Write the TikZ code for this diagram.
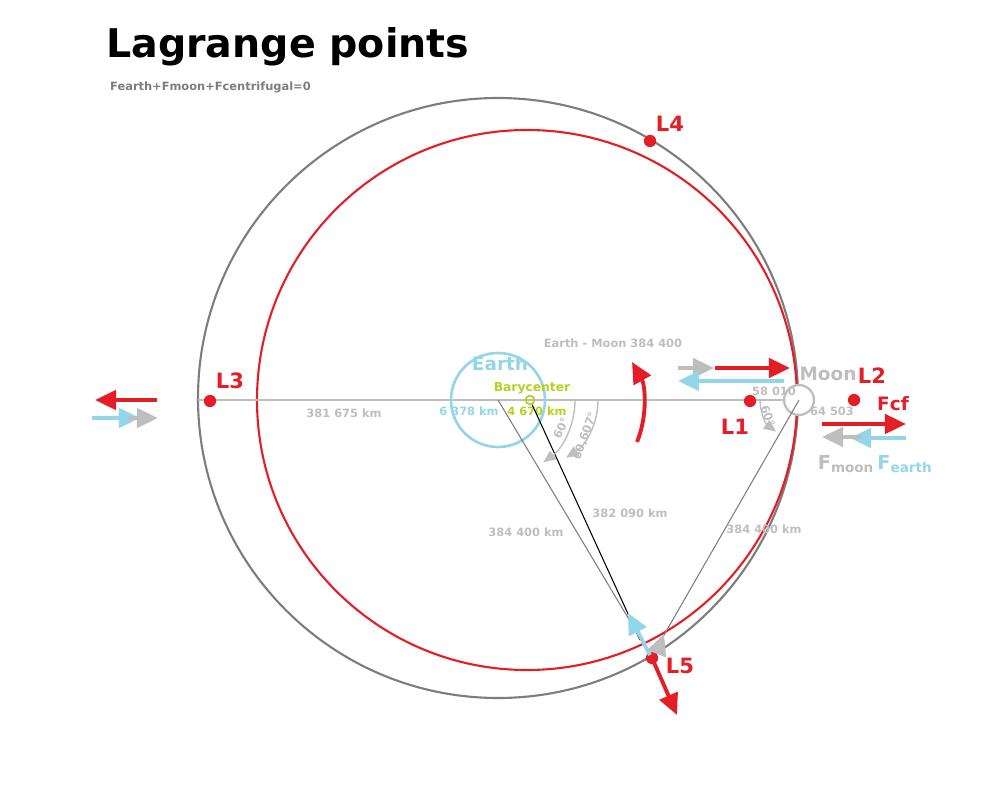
\documentclass[tikz,border=0pt]{standalone}
\usepackage{fontspec}
\setmainfont{DejaVu Sans}
\usetikzlibrary{arrows.meta}
\definecolor{lred}{RGB}{228,30,38}
\definecolor{lcyan}{RGB}{146,214,232}
\definecolor{lgrey}{RGB}{190,190,190}
\definecolor{dgrey}{RGB}{125,125,125}
\definecolor{lgreen}{RGB}{180,210,30}
\begin{document}
\begin{tikzpicture}[x=0.02cm,y=-0.02cm,
  force/.style={line width=2.2pt,-{Triangle[length=12pt,width=11pt]}},
  pt/.style={circle,fill=lred,inner sep=0pt,minimum size=7pt},
  lbl/.style={text=lred,font=\bfseries\fontsize{12}{12}\selectfont},
  small/.style={text=lgrey,font=\bfseries\fontsize{6.5}{6.5}\selectfont,inner sep=1pt},
  angarr/.style={lgrey,line width=0.8pt,-{Triangle[length=7pt,width=6pt]}}]
\useasboundingbox (0,0) rectangle (1000,800);
\node[anchor=west,font=\bfseries\fontsize{22.5}{22.5}\selectfont] (title) at (100,47) {Lagrange points};
\node[anchor=west,text=dgrey,font=\bfseries\fontsize{6.5}{6.5}\selectfont] (sub) at (104,87) {Fearth+Fmoon+Fcentrifugal=0};
% orbits
\draw[dgrey,line width=1.2pt] (498,398) circle (300);
\draw[lred,line width=1.2pt] (527,400) circle (270);
% axis
\draw[lgrey,line width=1pt] (198,400) -- (787,400);
% Earth
\coordinate (E) at (498,400);
\draw[lcyan,line width=1.5pt] (E) circle (47);
\node[text=lcyan,font=\bfseries\fontsize{10.5}{10.5}\selectfont] (earthlbl) at (500,364) {Earth};
\node[draw=lgreen,circle,line width=1pt,inner sep=0pt,minimum size=5pt] (bc) at (530,400) {};
\node[text=lgreen,font=\bfseries\fontsize{7}{7}\selectfont] (bcl) at (532,388) {Barycenter};
\node[text=lgreen,font=\bfseries\fontsize{6.5}{6.5}\selectfont] (d4670) at (537,411) {4 670 km};
\node[text=lcyan,font=\bfseries\fontsize{6.5}{6.5}\selectfont] (d6378) at (469,411) {6 378 km};
% Moon
\node[draw=lgrey,fill=white,line width=1.3pt,circle,minimum size=17pt] (moon) at (799,400) {};
\node[text=lgrey,font=\bfseries\fontsize{10.5}{10.5}\selectfont] (moonl) at (828,374) {Moon};
% points
\node[pt] (L1) at (750,401) {};
\node[pt] (L2) at (854,400) {};
\node[pt] (L3) at (210,401) {};
\node[pt] (L4) at (650,141) {};
\node[pt] (L5) at (652,658) {};
\node[lbl] at (735,427) {L1};
\node[lbl] at (872,376) {L2};
\node[lbl] at (230,381) {L3};
\node[lbl] at (670,124) {L4};
\node[lbl] at (680,666) {L5};
% lines to L5
\draw[dgrey,line width=0.6pt] (E) -- (L5);
\draw[black,line width=0.6pt] (bc) -- (640,640);
\draw[dgrey,line width=0.6pt] (moon.center) -- (660,642);
% distance labels
\node[small] at (344,413) {381 675 km};
\node[small] at (613,343) {Earth  - Moon 384 400};
\node[small] at (774,391) {58 010};
\node[small] at (832,411) {64 503};
\node[small] at (630,513) {382 090 km};
\node[small] at (526,532) {384 400 km};
\node[small] at (764,529) {384 400 km};
% angle arcs
\draw[angarr] (575,400) arc[start angle=0,end angle=54,radius=77];
\node[small,rotate=65] at (561,428) {60°};
\draw[angarr] (598,400) arc[start angle=0,end angle=58,radius=68];
\node[small,rotate=70] at (585,436) {60,607°};
\draw[angarr] (760,400) arc[start angle=180,end angle=126,radius=39];
\node[small,rotate=-70] at (768,416) {60°};
% forces at L3
\draw[force,lred] (157,400) -- (95,400);
\draw[force,lcyan] (92,418) -- (140,418);
\draw[force,lgrey] (128,418) -- (158,418);
% forces at L1
\draw[force,lgrey] (678,368) -- (714,368);
\draw[force,lred] (715,368) -- (790,368);
\draw[force,lcyan] (784,381) -- (678,381);
% forces at L2
\draw[force,lred] (822,424) -- (906,424);
\draw[force,lcyan] (906,438) -- (850,438);
\draw[force,lgrey] (862,437) -- (822,437);
\node[lbl,font=\bfseries\fontsize{10.5}{10.5}\selectfont] at (893,404) {Fcf};
\node[text=lgrey,font=\bfseries\fontsize{11}{11}\selectfont] at (846,464) {F\textsubscript{moon}};
\node[text=lcyan,font=\bfseries\fontsize{11}{11}\selectfont] at (905,464) {F\textsubscript{earth}};
% forces at L5
\draw[force,lred] (L5.center) -- (677,715);
\draw[force,lcyan] (650,655) -- (628,613);
\draw[force,lgrey] (658,650) -- (664,634);
% rotation arrow
\draw[lred,line width=2.2pt,-{Triangle[length=12pt,width=11pt]}] (637,442) .. controls (648,415) and (645,385) .. (632,362);
\end{tikzpicture}
\end{document}
